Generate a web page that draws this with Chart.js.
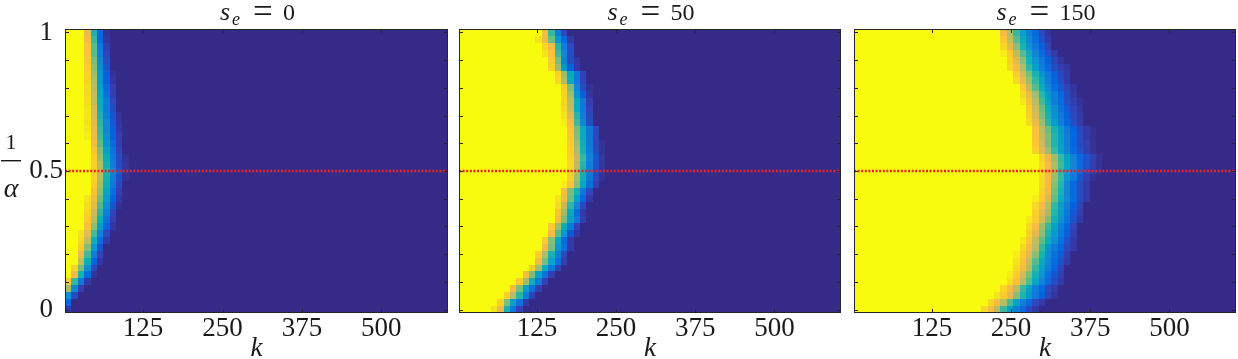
<!DOCTYPE html>
<html lang="en">
  <head>
    <meta charset="UTF-8" />
    <title>Heatmaps over k and 1/alpha</title>
    <script src="https://cdn.jsdelivr.net/npm/chart.js"></script>
    <style>
      body {
        margin: 0;
        background: #fff;
        width: 1238px;
        height: 359px;
        position: relative;
        overflow: hidden;
      }
      .panel {
        position: absolute;
        top: 0;
        height: 359px;
      }
    </style>
  </head>
  <body>
    <div class="panel" style="left: 0; width: 453px"><canvas id="p0"></canvas></div>
    <div class="panel" style="left: 453px; width: 393px"><canvas id="p1"></canvas></div>
    <div class="panel" style="left: 846px; width: 392px"><canvas id="p2"></canvas></div>

    <script>
      // ---- data ----
      const seValues = [0, 50, 150];
      const kTicks = [125, 250, 375, 500];
      const kRange = [2, 605]; // extent of the image along k
      const kCellCount = 60;
      const invAlpha = Array.from({ length: 41 }, (_, i) => i / 40); // 0, 0.025 ... 1
      const alphaTicks = [0, 0.1, 0.2, 0.3, 0.4, 0.5, 0.6, 0.7, 0.8, 0.9, 1];
      const alphaTickLabels = ["0", "", "", "", "", "0.5", "", "", "", "", "1"];

      // each row (1/alpha from 0 up to 1): [first column that is not 1, values of the next columns...]
      // columns left of the start are 1, columns after the listed ones are 0
      const se0Rows = [
        [0, 0.04],
        [0, 0.15],
        [0, 0.3, 0.08],
        [0, 0.65, 0.25, 0.05],
        [0, 0.88, 0.5, 0.2, 0.04],
        [1, 0.8, 0.45, 0.15, 0.03],
        [1, 0.9, 0.6, 0.28, 0.07],
        [2, 0.72, 0.42, 0.14, 0.03],
        [2, 0.8, 0.52, 0.22, 0.06],
        [2, 0.88, 0.62, 0.32, 0.1],
        [2, 0.92, 0.72, 0.42, 0.17, 0.04],
        [2, 0.95, 0.78, 0.52, 0.24, 0.07],
        [3, 0.84, 0.62, 0.33, 0.13, 0.03],
        [3, 0.87, 0.7, 0.42, 0.18, 0.05],
        [3, 0.9, 0.74, 0.48, 0.23, 0.07],
        [3, 0.93, 0.78, 0.53, 0.28, 0.1, 0.02],
        [3, 0.95, 0.81, 0.58, 0.33, 0.13, 0.04],
        [4, 0.84, 0.62, 0.38, 0.17, 0.05],
        [4, 0.87, 0.65, 0.42, 0.2, 0.07],
        [4, 0.89, 0.68, 0.44, 0.23, 0.09, 0.02],
        [4, 0.9, 0.7, 0.46, 0.25, 0.1, 0.03],
        [4, 0.9, 0.68, 0.43, 0.22, 0.08, 0.03],
        [4, 0.88, 0.63, 0.4, 0.2, 0.08, 0.02],
        [4, 0.85, 0.6, 0.35, 0.18, 0.06],
        [4, 0.82, 0.55, 0.3, 0.15, 0.05],
        [3, 0.97, 0.8, 0.52, 0.28, 0.12, 0.05],
        [3, 0.96, 0.8, 0.5, 0.25, 0.12, 0.04],
        [3, 0.95, 0.78, 0.48, 0.25, 0.1, 0.03],
        [3, 0.95, 0.75, 0.45, 0.22, 0.1, 0.02],
        [3, 0.95, 0.75, 0.42, 0.2, 0.08],
        [3, 0.93, 0.72, 0.4, 0.2, 0.07],
        [3, 0.92, 0.72, 0.38, 0.17, 0.05],
        [3, 0.92, 0.7, 0.35, 0.15, 0.05],
        [3, 0.9, 0.68, 0.32, 0.12, 0.03],
        [3, 0.9, 0.65, 0.3, 0.12, 0.02],
        [3, 0.88, 0.62, 0.28, 0.1],
        [3, 0.87, 0.6, 0.25, 0.08],
        [3, 0.85, 0.55, 0.22, 0.06],
        [3, 0.85, 0.55, 0.2, 0.05],
        [3, 0.82, 0.5, 0.15, 0.03],
        [3, 0.8, 0.45, 0.15, 0.02],
      ];

      const se50Rows = [
        [5, 0.95, 0.8, 0.45, 0.2, 0.06],
        [6, 0.9, 0.6, 0.35, 0.18, 0.04],
        [7, 0.9, 0.7, 0.48, 0.22, 0.06],
        [8, 0.82, 0.6, 0.35, 0.18, 0.05],
        [9, 0.88, 0.65, 0.42, 0.2, 0.06],
        [10, 0.82, 0.6, 0.35, 0.18, 0.05],
        [11, 0.88, 0.65, 0.42, 0.2, 0.06],
        [12, 0.82, 0.6, 0.38, 0.18, 0.05],
        [12, 0.9, 0.68, 0.45, 0.22, 0.07],
        [13, 0.82, 0.6, 0.32, 0.18, 0.04],
        [13, 0.88, 0.62, 0.38, 0.15, 0.04],
        [14, 0.82, 0.55, 0.3, 0.1, 0.03],
        [14, 0.88, 0.65, 0.42, 0.2, 0.06],
        [15, 0.82, 0.6, 0.35, 0.2, 0.05],
        [15, 0.85, 0.65, 0.38, 0.15, 0.04],
        [15, 0.92, 0.72, 0.48, 0.25, 0.08],
        [15, 0.95, 0.8, 0.58, 0.35, 0.15, 0.04],
        [16, 0.82, 0.6, 0.45, 0.2, 0.07],
        [16, 0.97, 0.85, 0.62, 0.38, 0.17, 0.05],
        [17, 0.9, 0.65, 0.42, 0.2, 0.07, 0.02],
        [17, 0.92, 0.68, 0.45, 0.22, 0.08, 0.03],
        [17, 0.92, 0.7, 0.47, 0.23, 0.09, 0.03],
        [17, 0.9, 0.72, 0.5, 0.25, 0.1, 0.03],
        [17, 0.9, 0.68, 0.44, 0.22, 0.08, 0.02],
        [17, 0.88, 0.65, 0.42, 0.2, 0.07, 0.02],
        [17, 0.87, 0.62, 0.4, 0.2, 0.07],
        [17, 0.85, 0.6, 0.4, 0.2, 0.07],
        [16, 0.97, 0.82, 0.52, 0.25, 0.08],
        [16, 0.95, 0.78, 0.48, 0.22, 0.07],
        [16, 0.92, 0.72, 0.42, 0.2, 0.06],
        [16, 0.9, 0.7, 0.4, 0.2, 0.05],
        [16, 0.9, 0.65, 0.3, 0.12, 0.03],
        [16, 0.88, 0.6, 0.25, 0.08, 0.02],
        [15, 0.92, 0.68, 0.4, 0.2, 0.06],
        [15, 0.9, 0.65, 0.38, 0.2, 0.06],
        [14, 0.9, 0.65, 0.3, 0.12, 0.04],
        [14, 0.88, 0.6, 0.22, 0.08, 0.03],
        [13, 0.95, 0.85, 0.52, 0.25, 0.08],
        [13, 0.92, 0.82, 0.48, 0.22, 0.07],
        [12, 0.95, 0.82, 0.58, 0.3, 0.15, 0.04],
        [13, 0.82, 0.5, 0.22, 0.07],
      ];

      const se150Rows = [
        [20, 0.92, 0.82, 0.7, 0.5, 0.35, 0.22, 0.15, 0.07, 0.04],
        [21, 0.92, 0.82, 0.7, 0.52, 0.36, 0.22, 0.15, 0.07, 0.04],
        [22, 0.95, 0.88, 0.78, 0.62, 0.46, 0.32, 0.2, 0.12, 0.06, 0.03],
        [23, 0.92, 0.82, 0.7, 0.5, 0.35, 0.22, 0.15, 0.07, 0.04],
        [24, 0.94, 0.84, 0.7, 0.54, 0.38, 0.24, 0.15, 0.08, 0.04],
        [24, 0.97, 0.88, 0.76, 0.6, 0.44, 0.3, 0.18, 0.1, 0.05],
        [25, 0.92, 0.82, 0.7, 0.5, 0.35, 0.22, 0.14, 0.06],
        [25, 0.95, 0.85, 0.72, 0.55, 0.4, 0.25, 0.16, 0.09, 0.04],
        [25, 0.97, 0.88, 0.78, 0.62, 0.45, 0.28, 0.18, 0.11, 0.05],
        [26, 0.92, 0.82, 0.7, 0.5, 0.3, 0.2, 0.14, 0.07, 0.04],
        [26, 0.96, 0.86, 0.72, 0.56, 0.42, 0.28, 0.17, 0.09, 0.04],
        [27, 0.9, 0.78, 0.62, 0.46, 0.32, 0.2, 0.12, 0.05],
        [27, 0.92, 0.82, 0.65, 0.5, 0.35, 0.22, 0.14, 0.06],
        [27, 0.96, 0.88, 0.75, 0.6, 0.44, 0.3, 0.18, 0.09, 0.04],
        [28, 0.9, 0.78, 0.65, 0.47, 0.33, 0.2, 0.1, 0.05],
        [28, 0.92, 0.82, 0.7, 0.5, 0.35, 0.22, 0.12, 0.06],
        [28, 0.97, 0.88, 0.76, 0.58, 0.42, 0.26, 0.16, 0.08, 0.04],
        [29, 0.9, 0.8, 0.6, 0.45, 0.25, 0.15, 0.08, 0.04],
        [29, 0.92, 0.82, 0.62, 0.48, 0.25, 0.16, 0.08, 0.04],
        [29, 0.92, 0.82, 0.65, 0.5, 0.3, 0.2, 0.1, 0.05, 0.02],
        [29, 0.92, 0.82, 0.68, 0.5, 0.36, 0.24, 0.15, 0.08, 0.05, 0.02],
        [29, 0.92, 0.82, 0.68, 0.52, 0.38, 0.25, 0.16, 0.09, 0.05, 0.02],
        [29, 0.9, 0.8, 0.66, 0.5, 0.36, 0.24, 0.15, 0.09, 0.05, 0.02],
        [28, 0.9, 0.78, 0.64, 0.5, 0.36, 0.24, 0.15, 0.09, 0.05, 0.02],
        [28, 0.87, 0.74, 0.6, 0.47, 0.34, 0.22, 0.14, 0.08, 0.05, 0.02],
        [28, 0.85, 0.72, 0.6, 0.47, 0.34, 0.22, 0.14, 0.08, 0.04, 0.02],
        [28, 0.84, 0.7, 0.58, 0.45, 0.32, 0.2, 0.13, 0.07, 0.04, 0.02],
        [27, 0.93, 0.8, 0.64, 0.48, 0.33, 0.22, 0.14, 0.08, 0.04],
        [27, 0.9, 0.76, 0.6, 0.45, 0.3, 0.2, 0.12, 0.07, 0.04],
        [27, 0.88, 0.74, 0.57, 0.42, 0.28, 0.18, 0.11, 0.06, 0.03],
        [26, 0.96, 0.84, 0.7, 0.52, 0.36, 0.22, 0.15, 0.08, 0.05, 0.02],
        [26, 0.92, 0.8, 0.65, 0.48, 0.33, 0.22, 0.14, 0.08, 0.04],
        [26, 0.88, 0.72, 0.55, 0.4, 0.26, 0.17, 0.1, 0.06, 0.03],
        [25, 0.92, 0.8, 0.65, 0.5, 0.35, 0.22, 0.14, 0.08, 0.04],
        [25, 0.88, 0.75, 0.6, 0.45, 0.3, 0.2, 0.12, 0.07, 0.04],
        [24, 0.92, 0.82, 0.68, 0.5, 0.35, 0.22, 0.15, 0.08, 0.05, 0.03],
        [24, 0.9, 0.78, 0.62, 0.45, 0.3, 0.2, 0.12, 0.06, 0.03],
        [23, 0.97, 0.88, 0.72, 0.55, 0.4, 0.25, 0.16, 0.09, 0.04],
        [23, 0.92, 0.78, 0.62, 0.45, 0.3, 0.2, 0.12, 0.06],
        [23, 0.87, 0.72, 0.55, 0.4, 0.26, 0.17, 0.09, 0.04],
        [23, 0.82, 0.68, 0.5, 0.35, 0.22, 0.15, 0.07, 0.03],
      ];

      const panelRows = [se0Rows, se50Rows, se150Rows];

      // ---- styling ----
      const serif = "'Liberation Serif', 'DejaVu Serif', serif";
      const textColor = "#1a1a1a";
      const frameColor = "#262626";

      // parula colormap stops
      const parulaStops = [
        [0.0, [53, 42, 135]],
        [0.063, [50, 67, 186]],
        [0.127, [3, 99, 225]],
        [0.19, [13, 117, 220]],
        [0.254, [20, 133, 212]],
        [0.317, [9, 152, 209]],
        [0.381, [6, 167, 198]],
        [0.444, [21, 177, 180]],
        [0.508, [56, 185, 158]],
        [0.571, [101, 190, 134]],
        [0.635, [146, 191, 115]],
        [0.698, [183, 189, 100]],
        [0.762, [217, 186, 86]],
        [0.825, [248, 187, 68]],
        [0.857, [255, 195, 55]],
        [0.889, [252, 206, 46]],
        [0.921, [247, 216, 38]],
        [0.952, [245, 228, 29]],
        [1.0, [249, 251, 14]],
      ];

      function parula(v) {
        v = Math.max(0, Math.min(1, v));
        for (let i = 1; i < parulaStops.length; i++) {
          const [t1, c1] = parulaStops[i];
          if (v <= t1) {
            const [t0, c0] = parulaStops[i - 1];
            const f = (v - t0) / (t1 - t0);
            const c = c0.map((a, j) => Math.round(a + (c1[j] - a) * f));
            return `rgb(${c[0]},${c[1]},${c[2]})`;
          }
        }
        return "rgb(249,251,14)";
      }

      function heatmapPlugin(rows, se, withFraction) {
        return {
          id: "heatmap",
          beforeDatasetsDraw(chart) {
            const { ctx, scales } = chart;
            const x = scales.x;
            const y = scales.y;
            const cellW = (kRange[1] - kRange[0]) / kCellCount;
            const halfH = (invAlpha[1] - invAlpha[0]) / 2;
            ctx.save();
            rows.forEach((row, r) => {
              const top = Math.round(y.getPixelForValue(invAlpha[r] + halfH));
              const bot = Math.round(y.getPixelForValue(invAlpha[r] - halfH));
              for (let c = 0; c < kCellCount; c++) {
                const v = c < row[0] ? 1 : row[c - row[0] + 1] || 0;
                const left = Math.round(x.getPixelForValue(kRange[0] + c * cellW));
                const right = Math.round(x.getPixelForValue(kRange[0] + (c + 1) * cellW));
                ctx.fillStyle = parula(v);
                ctx.fillRect(left, top, right - left, bot - top);
              }
            });
            ctx.restore();
          },
          afterDatasetsDraw(chart) {
            const { ctx, chartArea: a, scales } = chart;
            ctx.save();
            ctx.strokeStyle = frameColor;
            ctx.lineWidth = 1;
            ctx.beginPath();
            // inward tick marks on all four sides
            scales.x.ticks.forEach((t) => {
              const px = Math.round(scales.x.getPixelForValue(t.value)) + 0.5;
              ctx.moveTo(px, a.top);
              ctx.lineTo(px, a.top + 4);
              ctx.moveTo(px, a.bottom);
              ctx.lineTo(px, a.bottom - 4);
            });
            scales.y.ticks.forEach((t) => {
              const py = Math.round(scales.y.getPixelForValue(t.value)) + 0.5;
              ctx.moveTo(a.left, py);
              ctx.lineTo(a.left + 4, py);
              ctx.moveTo(a.right, py);
              ctx.lineTo(a.right - 4, py);
            });
            ctx.stroke();
            ctx.strokeRect(a.left + 0.5, a.top + 0.5, a.right - a.left - 1, a.bottom - a.top - 1);
            ctx.restore();
          },
          afterDraw(chart) {
            const { ctx, chartArea: a } = chart;
            ctx.save();
            ctx.fillStyle = textColor;
            ctx.textBaseline = "alphabetic";
            ctx.textAlign = "left";
            // title  s_e = value
            const value = String(se);
            ctx.font = `24px ${serif}`;
            const wVal = ctx.measureText(value).width;
            const total = 65 + wVal;
            const x0 = (a.left + a.right) / 2 - total / 2;
            const base = 20;
            ctx.font = `italic 26px ${serif}`;
            ctx.fillText("s", x0 + 2, base);
            ctx.font = `italic 18px ${serif}`;
            ctx.fillText("e", x0 + 14, base + 5);
            ctx.font = `35px ${serif}`;
            ctx.fillText("=", x0 + 35, base + 3);
            ctx.font = `24px ${serif}`;
            ctx.fillText(value, x0 + 65, base);
            if (withFraction) {
              ctx.textAlign = "center";
              ctx.font = `22px ${serif}`;
              ctx.fillText("1", 11, 149);
              ctx.fillRect(1, 160, 20, 1.4);
              ctx.font = `italic 28px ${serif}`;
              ctx.fillText("\u03B1", 11, 197);
            }
            ctx.restore();
          },
        };
      }

      function makePanel(i) {
        const padLeft = [28, 0, 0][i];
        const yWidth = [37, 6, 8][i];
        const padRight = [5, 5, 2][i];
        return new Chart(document.getElementById("p" + i), {
          type: "line",
          data: {
            datasets: [
              {
                data: [
                  { x: kRange[0], y: 0.5 },
                  { x: kRange[1], y: 0.5 },
                ],
                borderColor: "#e3242b",
                borderWidth: 2.5,
                borderDash: [2, 1.6],
                pointRadius: 0,
                fill: false,
              },
            ],
          },
          options: {
            animation: false,
            responsive: true,
            maintainAspectRatio: false,
            events: [],
            layout: { padding: { top: 29, right: padRight, left: padLeft, bottom: 0 } },
            plugins: {
              legend: { display: false },
              tooltip: { enabled: false },
            },
            scales: {
              x: {
                type: "linear",
                min: kRange[0],
                max: kRange[1],
                afterBuildTicks: (s) => {
                  s.ticks = kTicks.map((v) => ({ value: v }));
                },
                afterFit: (s) => {
                  s.height = 46;
                },
                grid: { display: false, drawTicks: false },
                border: { display: false },
                ticks: {
                  color: textColor,
                  font: { family: serif, size: 27 },
                  padding: 0,
                  maxRotation: 0,
                  autoSkip: false,
                },
                title: {
                  display: true,
                  text: "k",
                  color: textColor,
                  font: { family: serif, size: 27, style: "italic", lineHeight: 1 },
                  padding: { top: 0, bottom: -3 },
                },
              },
              y: {
                type: "linear",
                min: invAlpha[0] - 0.0125,
                max: invAlpha[invAlpha.length - 1] + 0.0125,
                afterBuildTicks: (s) => {
                  s.ticks = alphaTicks.map((v) => ({ value: v }));
                },
                afterFit: (s) => {
                  s.width = yWidth;
                },
                grid: { display: false, drawTicks: false },
                border: { display: false },
                ticks: {
                  display: i === 0,
                  color: textColor,
                  font: { family: serif, size: 27 },
                  padding: 2,
                  crossAlign: "center",
                  autoSkip: false,
                  callback: (v, idx) => alphaTickLabels[idx],
                },
              },
            },
          },
          plugins: [heatmapPlugin(panelRows[i], seValues[i], i === 0)],
        });
      }

      seValues.forEach((_, i) => makePanel(i));
    </script>
  </body>
</html>
